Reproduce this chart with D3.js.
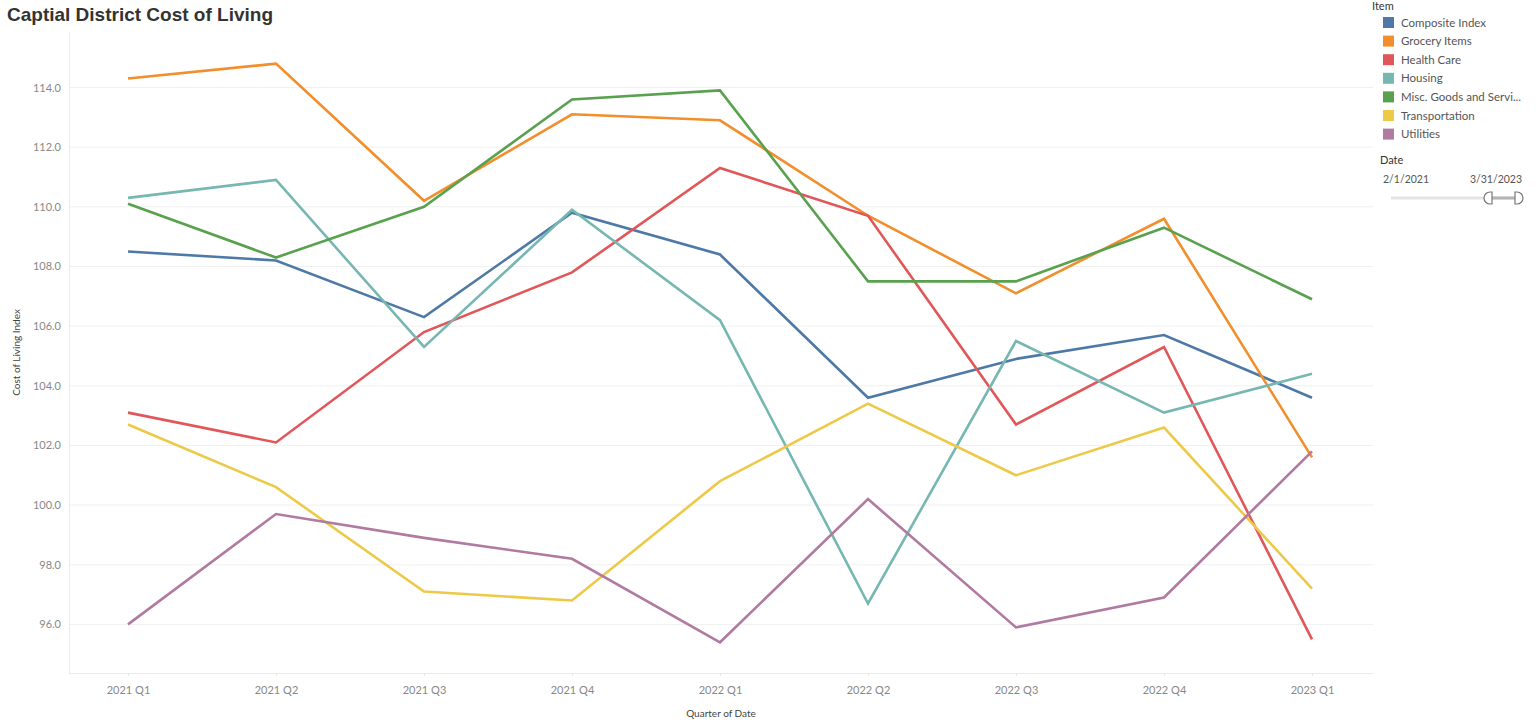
<!DOCTYPE html>
<html>
<head>
<meta charset="utf-8">
<script src="https://cdn.jsdelivr.net/npm/d3@7"></script>
<style>
  body { margin: 0; background: #fff; }
  text { font-family: Lato, "Open Sans", sans-serif; }
</style>
</head>
<body>
<div id="chart"></div>
<script>
// data
const quarters = ["2021 Q1", "2021 Q2", "2021 Q3", "2021 Q4", "2022 Q1", "2022 Q2", "2022 Q3", "2022 Q4", "2023 Q1"];
const items = ["Composite Index", "Grocery Items", "Health Care", "Housing", "Misc. Goods and Services", "Transportation", "Utilities"];
const composite = [108.5, 108.2, 106.3, 109.8, 108.4, 103.6, 104.9, 105.7, 103.6];
const grocery = [114.3, 114.8, 110.2, 113.1, 112.9, 109.7, 107.1, 109.6, 101.6];
const health = [103.1, 102.1, 105.8, 107.8, 111.3, 109.7, 102.7, 105.3, 95.5];
const housing = [110.3, 110.9, 105.3, 109.9, 106.2, 96.7, 105.5, 103.1, 104.4];
const misc = [110.1, 108.3, 110.0, 113.6, 113.9, 107.5, 107.5, 109.3, 106.9];
const transport = [102.7, 100.6, 97.1, 96.8, 100.8, 103.4, 101.0, 102.6, 97.2];
const utilities = [96.0, 99.7, 98.9, 98.2, 95.4, 100.2, 95.9, 96.9, 101.8];
const yTicks = [96, 98, 100, 102, 104, 106, 108, 110, 112, 114];
const colors = ["#4e79a7", "#f28e2b", "#e15759", "#76b7b2", "#59a14f", "#edc948", "#b07aa1"];

const seriesValues = [composite, grocery, health, housing, misc, transport, utilities];

const W = 1536, H = 726;
const pLeft = 69, pRight = 1373, pTop = 32, pBottom = 673;

const svg = d3.select("#chart").append("svg")
  .attr("width", W).attr("height", H);

// title
svg.append("text")
  .attr("x", 7).attr("y", 21)
  .style("font-family", "'Liberation Sans', Arial, sans-serif")
  .style("font-size", "19px").style("font-weight", "bold")
  .attr("fill", "#333")
  .text("Captial District Cost of Living");

// scales
const x = d3.scalePoint().domain(quarters).range([128, 1312]);
const y = d3.scaleLinear().domain([94.37, 115.86]).range([pBottom, pTop]);

// grid
svg.append("g").selectAll("line").data(yTicks).enter().append("line")
  .attr("x1", pLeft).attr("x2", pRight)
  .attr("y1", d => y(d)).attr("y2", d => y(d))
  .attr("stroke", "#f0f0f0").attr("stroke-width", 1);

// axis lines
svg.append("line").attr("x1", pLeft + 0.5).attr("x2", pLeft + 0.5).attr("y1", pTop).attr("y2", pBottom)
  .attr("stroke", "#eaeaea");
svg.append("line").attr("x1", pLeft).attr("x2", pRight).attr("y1", pBottom + 0.5).attr("y2", pBottom + 0.5)
  .attr("stroke", "#eaeaea");

// Y axis
const yAxis = svg.append("g")
  .attr("transform", "translate(" + pLeft + ",0)")
  .call(d3.axisLeft(y).tickValues(yTicks).tickFormat(d3.format(".1f")).tickSize(0).tickPadding(8));
yAxis.select(".domain").remove();
yAxis.selectAll("text").attr("fill", "#888").style("font-size", "11px");

// X axis
const xAxis = svg.append("g")
  .attr("transform", "translate(0," + pBottom + ")")
  .call(d3.axisBottom(x).tickSize(3).tickPadding(10));
xAxis.select(".domain").remove();
xAxis.selectAll("line").attr("stroke", "#e6e6e6");
xAxis.selectAll("text").attr("fill", "#888").style("font-size", "11px");

// axis titles
svg.append("text")
  .attr("transform", "translate(20," + ((pTop + pBottom) / 2) + ") rotate(-90)")
  .attr("text-anchor", "middle")
  .style("font-size", "10px").attr("fill", "#444")
  .text("Cost of Living Index");

svg.append("text")
  .attr("x", (pLeft + pRight) / 2).attr("y", 717)
  .attr("text-anchor", "middle")
  .style("font-size", "10px").attr("fill", "#444")
  .text("Quarter of Date");

// lines
const line = d3.line()
  .x((d, i) => x(quarters[i]))
  .y(d => y(d));

svg.append("g").selectAll("path").data(seriesValues).enter().append("path")
  .attr("d", d => line(d))
  .attr("fill", "none")
  .attr("stroke", (d, i) => colors[i])
  .attr("stroke-width", 2.6)
  .attr("stroke-linejoin", "miter")
  .attr("stroke-linecap", "butt");

// legend
const legend = svg.append("g");
legend.append("text").attr("x", 1372).attr("y", 10)
  .style("font-size", "11px").attr("fill", "#333").text("Item");

const rows = legend.selectAll("g.row").data(items).enter().append("g")
  .attr("class", "row")
  .attr("transform", (d, i) => "translate(1383," + (17 + i * 18.6) + ")");
rows.append("rect").attr("width", 11).attr("height", 11).attr("fill", (d, i) => colors[i]);
rows.append("text").attr("x", 18).attr("y", 9.5)
  .style("font-size", "11.5px").attr("fill", "#555")
  .text(d => d === "Misc. Goods and Services" ? "Misc. Goods and Servi..." : d);

// date filter
legend.append("text").attr("x", 1380).attr("y", 164)
  .style("font-size", "11px").attr("fill", "#333").text("Date");
legend.append("text").attr("x", 1383).attr("y", 183)
  .style("font-size", "10.5px").attr("fill", "#555").text("2/1/2021");
legend.append("text").attr("x", 1522).attr("y", 183).attr("text-anchor", "end")
  .style("font-size", "10.5px").attr("fill", "#555").text("3/31/2023");
legend.append("line").attr("x1", 1391).attr("x2", 1520).attr("y1", 198).attr("y2", 198)
  .attr("stroke", "#e4e4e4").attr("stroke-width", 3);
legend.append("line").attr("x1", 1490).attr("x2", 1518).attr("y1", 198).attr("y2", 198)
  .attr("stroke", "#b5b5b5").attr("stroke-width", 3);
// handles (half-round)
legend.append("path")
  .attr("d", "M1492,192 L1490,192 A6,6 0 0 0 1490,204 L1492,204 Z")
  .attr("fill", "#fff").attr("stroke", "#777").attr("stroke-width", 1.2);
legend.append("path")
  .attr("d", "M1515,192 L1517,192 A6,6 0 0 1 1517,204 L1515,204 Z")
  .attr("fill", "#fff").attr("stroke", "#777").attr("stroke-width", 1.2);
</script>
</body>
</html>
